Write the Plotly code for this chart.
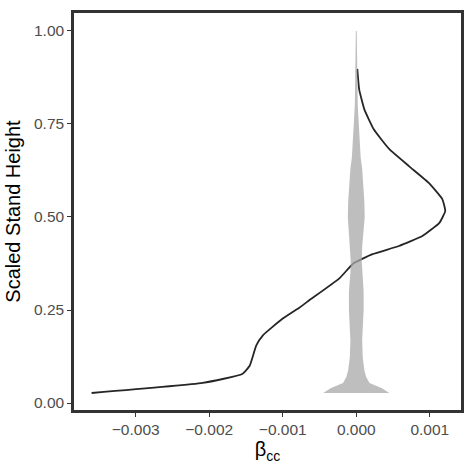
import plotly.graph_objects as go

# profile of beta_cc along the scaled stand height
beta_cc = [-0.00360, -0.00209, -0.00155, -0.00145, -0.00136, -0.00127, -0.00100,
           -0.00077, -0.00064, -0.00023, -0.00004, 0.00022, 0.00058, 0.00090,
           0.00113, 0.00121, 0.00117, 0.00099, 0.00072, 0.00045, 0.00024,
           0.00011, 0.00004, 0.000014]
height = [0.027, 0.054, 0.078, 0.100, 0.155, 0.182, 0.227,
          0.257, 0.276, 0.335, 0.375, 0.400, 0.422, 0.449,
          0.484, 0.516, 0.548, 0.591, 0.636, 0.682, 0.735,
          0.789, 0.842, 0.898]

# half width of the grey distribution (centered on zero)
dist_height = [0.027, 0.040, 0.054, 0.070, 0.088, 0.123, 0.168, 0.20, 0.25, 0.30,
               0.35, 0.38, 0.42, 0.46, 0.50, 0.54, 0.58, 0.63, 0.66, 0.70,
               0.75, 0.80, 0.84, 0.90, 1.00]
dist_halfwidth = [0.00045, 0.00035, 0.00018, 0.000135, 0.00011, 0.000088, 0.00008,
                  0.00009, 0.0001, 0.0001, 0.00008, 0.000075, 0.00008, 0.0001,
                  0.000115, 0.00011, 0.0001, 0.00008, 0.00006, 0.000045,
                  0.000034, 0.00002, 0.000016, 0.00001, 0.000006]

x_tick_vals = [-0.003, -0.002, -0.001, 0.0, 0.001]
x_tick_text = ["\u22120.003", "\u22120.002", "\u22120.001", "0.000", "0.001"]
y_tick_vals = [0.0, 0.25, 0.5, 0.75, 1.0]

# closed outline: right side going up, left side coming down
poly_x = dist_halfwidth + [-w for w in dist_halfwidth[::-1]]
poly_y = dist_height + dist_height[::-1]

fig = go.Figure()
fig.add_trace(go.Scatter(x=beta_cc, y=height, mode="lines", line_shape="spline",
                         line=dict(color="#262626", width=1.8, smoothing=0.4),
                         hoverinfo="skip", showlegend=False))
fig.add_trace(go.Scatter(x=poly_x, y=poly_y, mode="lines", fill="toself",
                         fillcolor="rgba(168,168,168,0.75)",
                         line=dict(width=0, color="rgba(0,0,0,0)"),
                         hoverinfo="skip", showlegend=False))

axis_style = dict(showgrid=False, zeroline=False, showline=True, mirror=True,
                  linecolor="#333333", linewidth=1.5, ticks="outside", ticklen=4,
                  tickwidth=1.3, tickcolor="#333333",
                  tickfont=dict(family="Liberation Sans", size=15.5, color="#4D4D4D"))

fig.update_xaxes(range=[-0.003853, 0.001438], tickvals=x_tick_vals, ticktext=x_tick_text,
                 title=dict(text="\u03b2<sub>cc</sub>", standoff=4,
                            font=dict(family="Liberation Sans", size=20, color="black")),
                 **axis_style)
fig.update_yaxes(range=[-0.0214, 1.0508], tickvals=y_tick_vals, tickformat=".2f",
                 title=dict(text="Scaled Stand Height", standoff=8,
                            font=dict(family="Liberation Sans", size=20, color="black")),
                 **axis_style)

# panel border (theme_bw style box)
fig.add_shape(type="rect", xref="paper", yref="paper", x0=0, y0=0, x1=1, y1=1,
              line=dict(color="#333333", width=2), layer="above")

fig.update_layout(width=474, height=474, margin=dict(l=73, r=11, t=10, b=63),
                  plot_bgcolor="white", paper_bgcolor="white")

# page body has a default 8px margin; drop it so the figure sits at the corner
fig.write_html("out.html", config={"displayModeBar": False},
               post_script="document.body.style.margin='0'; document.body.style.overflow='hidden';")
